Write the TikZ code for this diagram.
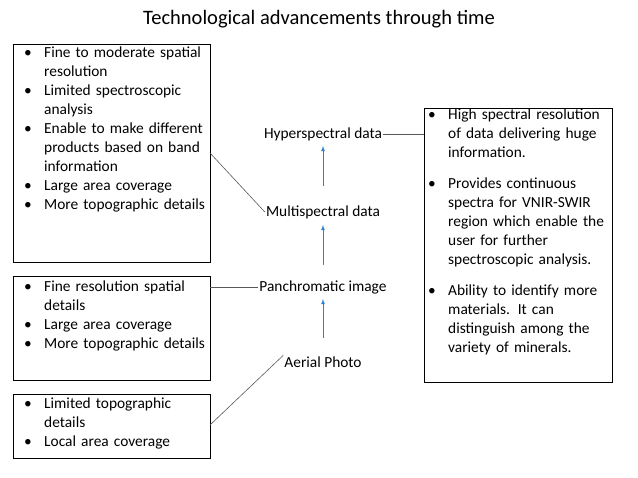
\documentclass[tikz,border=0pt]{standalone}
\usepackage{fontspec}
\setmainfont{Carlito}
\newcommand{\bi}[1]{\hangindent=20pt\hangafter=1\noindent\makebox[20pt][l]{•}#1\par}
\newcommand{\bset}{\raggedright\hyphenpenalty=10000 \exhyphenpenalty=10000 \parskip=0pt }
\begin{document}
\begin{tikzpicture}[x=1pt,y=-1pt,
 bx/.style={draw,line width=0.8pt,inner sep=0pt},
 txt/.style={font=\fontsize{15.4}{19}\selectfont,align=left,anchor=north west,text width=#1,inner sep=0pt},
 lbl/.style={font=\fontsize{15.4}{19}\selectfont,inner sep=1pt},
 up/.style={-latex,draw=blue!50!cyan!60!gray,line width=0.8pt},
 ln/.style={draw=gray!70!black,line width=0.6pt}]
\useasboundingbox (0,0) rectangle (638,478);
\node[font=\fontsize{20.5}{24}\selectfont] (title) at (319,19) {Technological advancements through time};
\draw[bx] (13,44) rectangle (210,262);
\draw[bx] (13,276) rectangle (210,380);
\draw[bx] (13,394) rectangle (210,458);
\draw[bx] (424,108) rectangle (612,382);
\node[txt=182pt] (b1) at (24,47) {\bset\bi{Fine to moderate spatial resolution}\bi{Limited spectroscopic analysis}\bi{Enable to make different products based on band information}\bi{Large area coverage}\bi{More topographic details}};
\node[txt=182pt] (b2) at (24,281) {\bset\bi{Fine resolution spatial details}\bi{Large area coverage}\bi{More topographic details}};
\node[txt=160pt] (b3) at (24,398) {\bset\bi{Limited topographic details}\bi{Local area coverage}};
\node[txt=178pt] (b4) at (428,109) {\bset\bi{High spectral resolution of data delivering huge information.}\vspace{12pt}\bi{Provides continuous spectra for VNIR-SWIR region which enable the user for further spectroscopic analysis.}\vspace{12pt}\bi{Ability to identify more materials. It can distinguish among the variety of minerals.}};
\node[lbl] (hy) at (323,134) {Hyperspectral data};
\node[lbl] (mu) at (323,212) {Multispectral data};
\node[lbl] (pa) at (323,287) {Panchromatic image};
\node[lbl] (ae) at (323,362) {Aerial Photo};
\draw[up] (323,186) -- (323,146);
\draw[up] (323,265) -- (323,225);
\draw[up] (323,338) -- (323,299);
\coordinate (c1) at (210,153);
\coordinate (c2) at (210,287);
\coordinate (c3) at (210,425);
\coordinate (c4) at (424,134);
\draw[ln] (c1) -- (mu.west);
\draw[ln] (c2) -- (pa.west);
\draw[ln] (c3) -- (ae.north west);
\draw[ln] (hy.east) -- (c4);
\end{tikzpicture}
\end{document}
